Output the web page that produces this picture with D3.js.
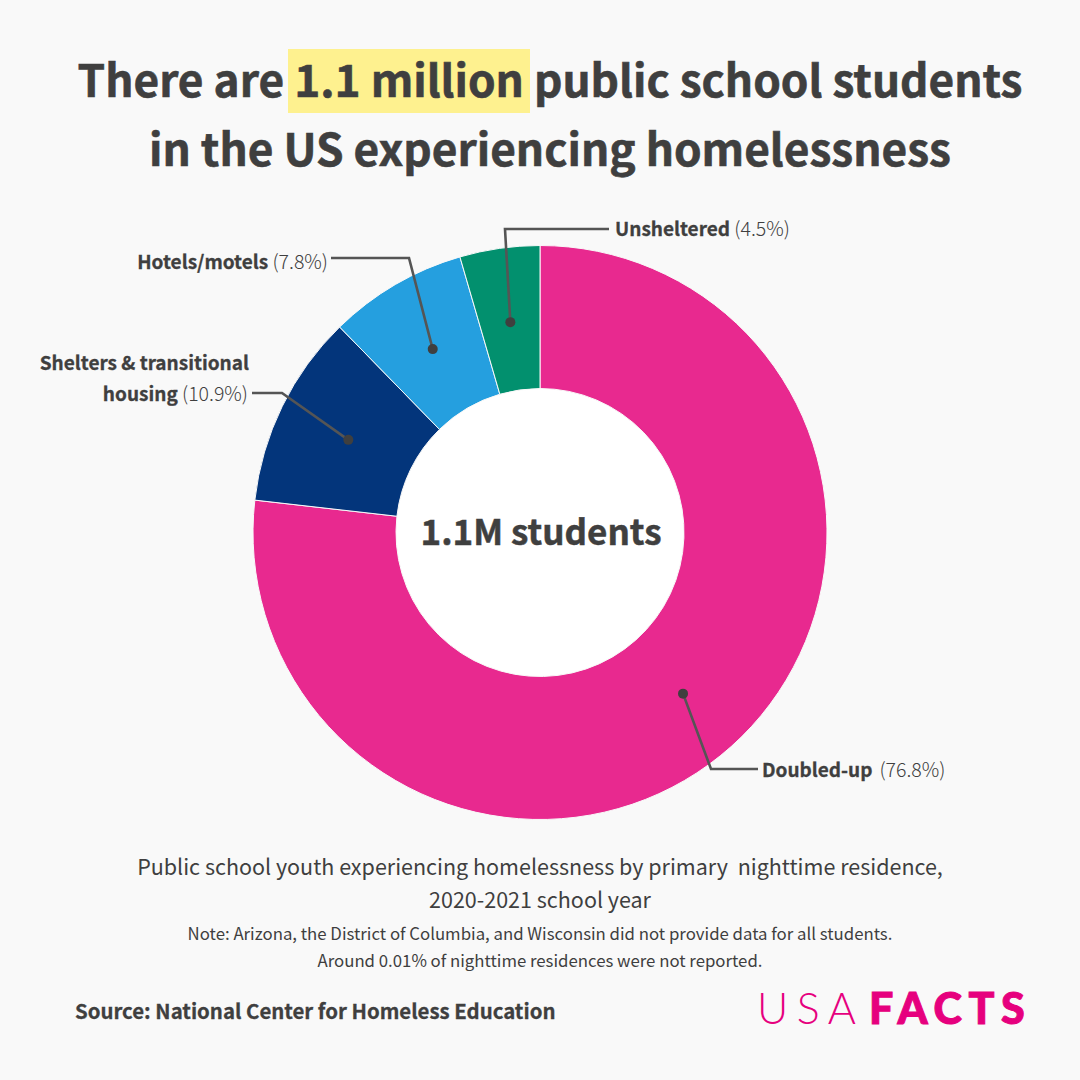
<!DOCTYPE html>
<html>
<head>
<meta charset="utf-8">
<title>Homeless students donut</title>
<script src="https://d3js.org/d3.v7.min.js"></script>
<style>
	html, body { margin: 0; padding: 0; background: #f9f9f9; }
	svg { display: block; }
	text { font-family: "Noto Sans CJK SC", "Noto Sans", sans-serif; fill: #3f3f3f; }
	.title { font-size: 44.2px; font-weight: 700; text-anchor: middle; stroke: #3f3f3f; stroke-width: 0.6px; }
	.label { font-size: 19px; }
	.label .name { font-weight: 700; stroke: #3f3f3f; stroke-width: 0.3px; }
	.label .pct { font-weight: 300; font-size: 19.5px; }
	.sub { font-size: 21.5px; font-weight: 400; text-anchor: middle; }
	.note { font-size: 16.8px; font-weight: 400; text-anchor: middle; }
	.source { font-size: 20.4px; font-weight: 700; stroke: #3f3f3f; stroke-width: 0.3px; }
	.center { font-size: 35px; font-weight: 700; text-anchor: middle; stroke: #3f3f3f; stroke-width: 0.5px; }
	.logo { font-family: Lato, sans-serif; fill: #e6007e; font-size: 43px; }
</style>
</head>
<body>
<script>
	// data, clockwise from 12 o'clock
	const categories = ['Doubled-up', 'Shelters & transitional housing', 'Hotels/motels', 'Unsheltered'];
	const shares = [76.8, 10.9, 7.8, 4.5];
	const sliceColors = ['#e8298f', '#03357b', '#259fdf', '#02906e'];

	const width = 1080, height = 1080;
	const cx = 540, cy = 532.5;
	const outer = 287, inner = 144;

	const svg = d3.select('body').append('svg')
		.attr('width', width)
		.attr('height', height);

	svg.append('rect')
		.attr('width', width)
		.attr('height', height)
		.attr('fill', '#f9f9f9');

	// title
	svg.append('rect')
		.attr('x', 288).attr('y', 49)
		.attr('width', 242).attr('height', 64)
		.attr('fill', '#fef18f');
	svg.append('text').attr('class', 'title').attr('x', 550).attr('y', 97)
		.text('There are 1.1 million public school students');
	svg.append('text').attr('class', 'title').attr('x', 550).attr('y', 166)
		.text('in the US experiencing homelessness');

	// donut
	const pie = d3.pie().sort(null).value(d => d);
	const arcs = pie(shares);
	const arc = d3.arc().innerRadius(inner).outerRadius(outer);
	const dotArc = d3.arc().innerRadius(214).outerRadius(214);

	const g = svg.append('g').attr('transform', `translate(${cx},${cy})`);

	g.append('circle').attr('r', inner).attr('fill', '#fff');

	g.selectAll('path.slice')
		.data(arcs)
		.enter().append('path')
		.attr('class', 'slice')
		.attr('d', arc)
		.attr('fill', (d, i) => sliceColors[i])
		.attr('stroke', '#f9f9f9')
		.attr('stroke-width', 1);

	g.append('text').attr('class', 'center').attr('x', 1).attr('y', 12).text('1.1M students');

	// leaders: dot on the slice, then elbow and end beside the label
	const leaders = [
		{elbow: [711, 769], end: [758, 769]},
		{elbow: [282, 393], end: [252, 393]},
		{elbow: [409, 258], end: [331, 258]},
		{elbow: [505, 229], end: [609, 229]}
	];
	const line = d3.line();

	arcs.forEach((d, i) => {
		const c = dotArc.centroid(d);
		const dot = [c[0] + cx + 0.5, c[1] + cy + 1.5];
		svg.append('path')
			.attr('d', line([dot, leaders[i].elbow, leaders[i].end]))
			.attr('fill', 'none')
			.attr('stroke', '#555')
			.attr('stroke-width', 2.6);
		svg.append('circle')
			.attr('cx', dot[0]).attr('cy', dot[1])
			.attr('r', 5)
			.attr('fill', '#3f3f3f');
	});

	function label(x, y, anchor, name, pct, gap) {
		const t = svg.append('text').attr('class', 'label')
			.attr('x', x).attr('y', y).attr('text-anchor', anchor);
		t.append('tspan').attr('class', 'name').text(name);
		if (pct) t.append('tspan').attr('class', 'pct').attr('dx', gap || 0).text(pct);
	}
	const pctText = shares.map(v => `(${v}%)`);

	label(762, 777, 'start', 'Doubled-up', pctText[0], 7);
	label(249, 370, 'end', 'Shelters & transitional');
	label(248, 401, 'end', 'housing ', pctText[1]);
	label(328, 269, 'end', 'Hotels/motels ', pctText[2]);
	label(615, 236, 'start', 'Unsheltered ', pctText[3]);

	// footer
	svg.append('text').attr('class', 'sub').attr('x', 540).attr('y', 875)
		.text('Public school youth experiencing homelessness by primary  nighttime residence,')
		.attr('xml:space', 'preserve');
	svg.append('text').attr('class', 'sub').attr('x', 540).attr('y', 908).text('2020-2021 school year');
	svg.append('text').attr('class', 'note').attr('x', 540).attr('y', 940)
		.text('Note: Arizona, the District of Columbia, and Wisconsin did not provide data for all students.');
	svg.append('text').attr('class', 'note').attr('x', 540).attr('y', 967)
		.text('Around 0.01% of nighttime residences were not reported.');
	svg.append('text').attr('class', 'source').attr('x', 75).attr('y', 1019)
		.text('Source: National Center for Homeless Education');

	// logo
	svg.append('text').attr('class', 'logo').attr('x', 757).attr('y', 1024)
		.attr('font-weight', 300).style('letter-spacing', '8.5px').text('USA');
	svg.append('text').attr('class', 'logo').attr('x', 869).attr('y', 1024)
		.attr('font-weight', 900).style('letter-spacing', '6.7px')
		.style('stroke', '#e6007e').style('stroke-width', '1px').text('FACTS');
</script>
</body>
</html>
